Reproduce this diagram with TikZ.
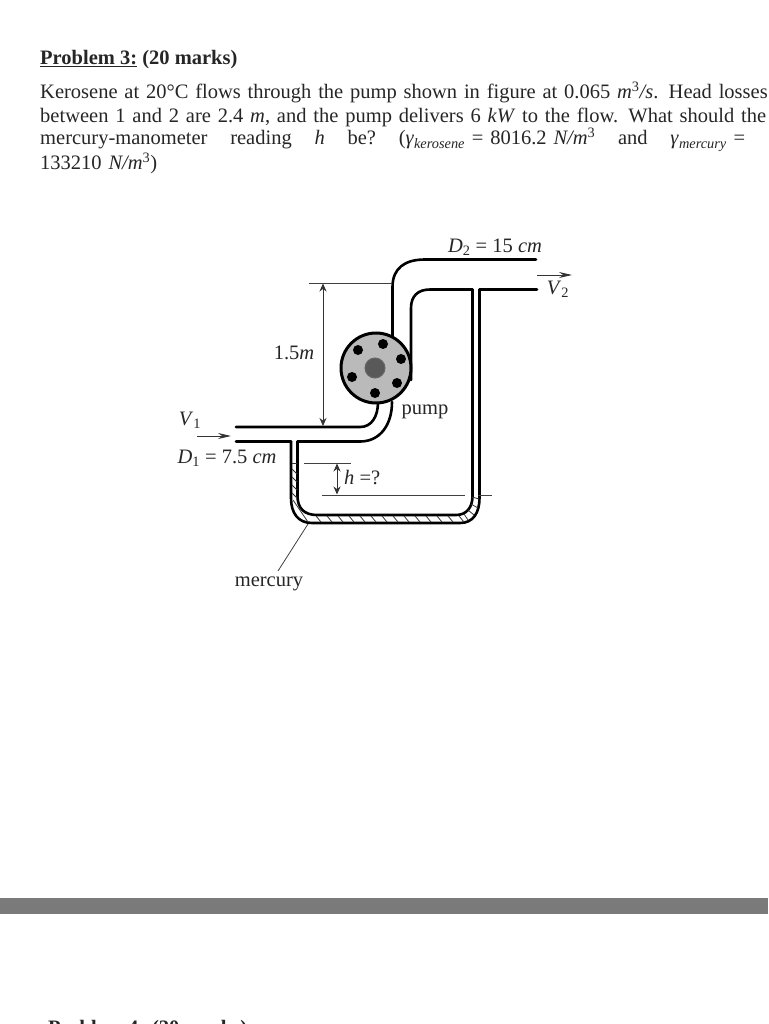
\documentclass[tikz,border=0pt]{standalone}
\usepackage{fontspec}
\setmainfont{Liberation Serif}
\usetikzlibrary{arrows.meta}
\newcommand{\qty}[1]{\textit{#1}}
\tikzset{
  pipe/.style={line width=2.6pt,line cap=round},
  thin line/.style={line width=.8pt,black!75},
  dim arrow/.style={line width=.9pt,black!80,{Stealth[length=8pt,width=7pt]}-{Stealth[length=8pt,width=7pt]}},
  flow arrow/.style={line width=.9pt,black!80,-{Stealth[length=13pt,width=6pt]}},
  hatch/.style={line width=.8pt,black!80},
  txt/.style={font=\fontsize{20.5}{25}\selectfont,text=black!85,inner sep=0pt},
  line/.style={txt,anchor=base west,text width=705pt,align=left},
  dot/.style={circle,fill=black,inner sep=0pt,minimum size=10pt}
}
\begin{document}
\begin{tikzpicture}[x=1pt,y=-1pt]
  \useasboundingbox (0,0) rectangle (768,1024);
  \clip (0,0) rectangle (768,1024);
  \fill[white] (0,0) rectangle (768,1024);
  % text of the problem
  \node[txt,anchor=base west] (title) at (40,65) {\textbf{\underline{Problem 3:} (20 marks)}};
  \node[line] (line1) at (40,99) {\hbox to 705pt{Kerosene at 20°C flows through the pump shown in figure at 0.065 \qty{m}\textsuperscript{3}\qty{/s}. Head losses}};
  \node[line] (line2) at (40,123) {\hbox to 705pt{between 1 and 2 are 2.4 \qty{m}, and the pump delivers 6 \qty{kW} to the flow. What should the}};
  \node[line] (line3) at (40,145) {\hbox to 705pt{mercury-manometer\hfil reading\hfil \qty{h}\hfil be?\hfil (\qty{γ}\textsubscript{\qty{kerosene}} = 8016.2 \qty{N/m}\textsuperscript{3}\hfil and\hfil \qty{γ}\textsubscript{\qty{mercury}} =}};
  \node[line] (line4) at (40,170) {133210 \qty{N/m}\textsuperscript{3})};
  % upper pipe
  \draw[pipe] (392.5,336) -- (392.5,287) .. controls (392.5,268) and (405,259.5) .. (425,259.5) -- (536,259.5);
  \draw[pipe] (411,380) -- (411,308) .. controls (411,296) and (418,289.5) .. (430,289.5) -- (472.5,289.5);
  \draw[pipe] (479.5,289.5) -- (537,289.5);
  % lower pipe
  \draw[pipe] (236,427) -- (360,427) .. controls (372,427) and (378,416) .. (378,402);
  \draw[pipe] (236,441.5) -- (291,441.5);
  \draw[pipe] (297.5,441.5) -- (360,441.5) .. controls (380,441.5) and (392,425) .. (392,402);
  % manometer tube
  \draw[pipe] (291,441.5) -- (291,498) .. controls (291,513) and (298,523) .. (312,523) -- (460,523) .. controls (473,523) and (479.5,513) .. (479.5,498) -- (479.5,289.5);
  \draw[pipe] (297.5,441.5) -- (297.5,496) .. controls (297.5,508) and (304,515) .. (317,515) -- (456,515) .. controls (466,515) and (472.5,508) .. (472.5,496) -- (472.5,289.5);
  % mercury hatching
  \draw[hatch] (292,463) -- (297,463);
  \foreach \yy in {469,477,485,493}
    \draw[hatch] (292,\yy) -- (297,\yy+5);
  \draw[hatch] (293,500) -- (308,522);
  \foreach \xx in {316,327,338,349,360,371,382,393,404,415,426,437,448,459}
    \draw[hatch] (\xx,516) -- (\xx+5,522);
  \draw[hatch] (464,514) -- (468,520);
  \draw[hatch] (468,510) -- (474,515);
  \draw[hatch] (471,504) -- (478,508);
  \draw[hatch] (472,497) -- (479,499);
  % pump
  \node[circle,draw,line width=3pt,fill=black!27,minimum size=70pt,inner sep=0pt] (pump) at (376,368) {};
  \node[circle,draw=black!60,line width=1pt,fill=black!65,minimum size=20pt,inner sep=0pt] (hub) at (375,368) {};
  \foreach \dx/\dy in {358/350,383/344,401/359,397/383,375/393,352/377}
    \node[dot] at (\dx,\dy) {};
  % levels and dimensions
  \draw[thin line] (309,283) -- (392,283);
  \draw[dim arrow] (323,283.5) -- (323,426);
  \draw[thin line] (304,463) -- (351,463);
  \draw[thin line] (322,495) -- (465,495);
  \draw[thin line] (478,495) -- (492,495);
  \draw[dim arrow] (337,463.5) -- (337,494.5);
  \draw[flow arrow] (197,436) -- (231,436);
  \draw[flow arrow] (537,275) -- (572,275);
  \draw[thin line] (308,524) -- (278,571);
  % labels
  \node[txt] (height) at (294,353) {1.5\qty{m}};
  \node[txt] (vone) at (190,420) {\qty{V}\textsubscript{1}};
  \node[txt] (done) at (227,458) {\qty{D}\textsubscript{1} = 7.5 \qty{cm}};
  \node[txt] (dtwo) at (495,247) {\qty{D}\textsubscript{2} = 15 \qty{cm}};
  \node[txt] (vtwo) at (558,289) {\qty{V}\textsubscript{2}};
  \node[txt] (pumplabel) at (425,412) {pump};
  \node[txt,anchor=west] (hlabel) at (344,478) {\qty{h} =?};
  \node[txt] (mercury) at (269,584) {mercury};
  % separator
  \fill[black!52] (0,898) rectangle (768,913.5);
  \node[txt,anchor=base west] (next) at (48,1034) {\textbf{Problem 4: (20 marks)}};
\end{tikzpicture}
\end{document}
